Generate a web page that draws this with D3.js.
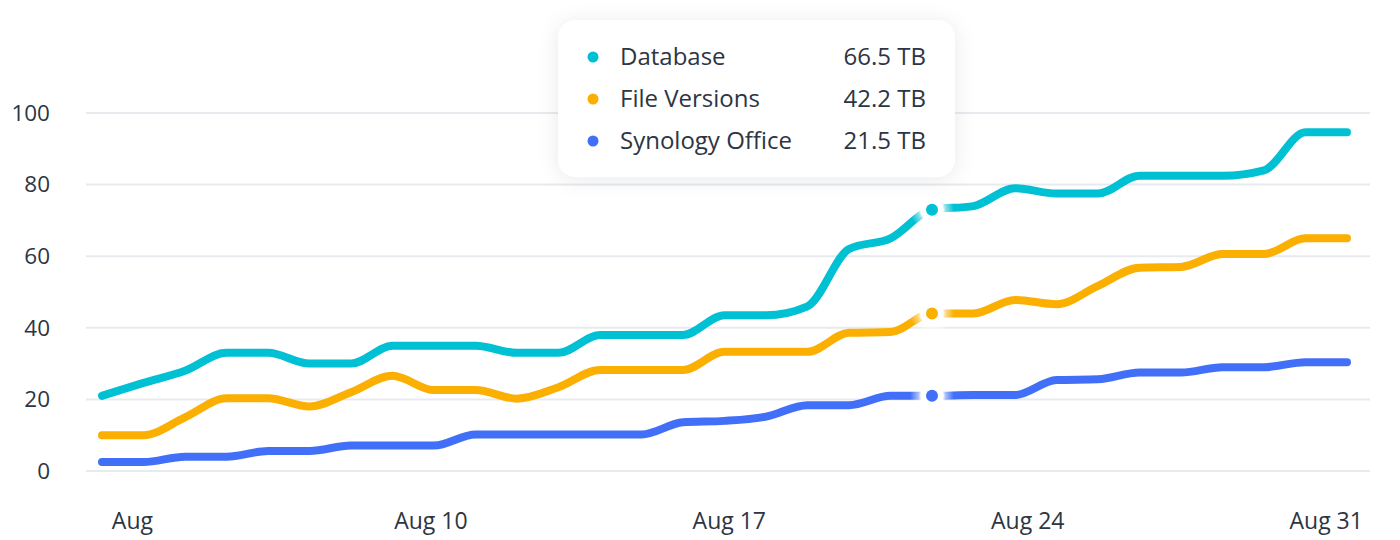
<!DOCTYPE html>
<html>
<head>
<meta charset="utf-8">
<script src="https://cdn.jsdelivr.net/npm/d3@7"></script>
<style>
    html, body { margin: 0; padding: 0; background: #fff; }
    svg { display: block; font-family: "Open Sans", sans-serif; }
</style>
</head>
<body>
<svg id="chart" width="1400" height="540"></svg>
<script>
// values per sample, one sample roughly every day
const seriesNames = ["Database", "File Versions", "Synology Office"];
const database = [21, 24.6, 28, 33, 33, 30, 30, 35, 35, 35, 33, 33, 38, 38, 38, 43.5, 43.5, 46,
    62, 65, 73, 74, 79, 77.5, 77.5, 82.5, 82.5, 82.5, 84, 94.6, 94.6];
const fileVersions = [10, 10, 15, 20.3, 20.3, 18, 22, 26.6, 22.6, 22.6, 20.2, 23.4, 28.2, 28.2, 28.2,
    33.3, 33.3, 33.3, 38.6, 38.8, 44, 44, 47.8, 46.6, 51.7, 56.8, 57, 60.6, 60.6, 65, 65];
const synologyOffice = [2.5, 2.5, 4, 4, 5.6, 5.6, 7.1, 7.1, 7.1, 10.2, 10.2, 10.2, 10.2, 10.2,
    13.6, 14, 15.2, 18.4, 18.4, 21, 21, 21.2, 21.2, 25.4, 25.6, 27.5, 27.5, 29, 29, 30.4, 30.4];
const seriesColors = ["#00c0d3", "#fbaf00", "#416ff8"];

const yTicks = [0, 20, 40, 60, 80, 100];
const tickDates = [new Date(2025, 7, 3), new Date(2025, 7, 10), new Date(2025, 7, 17),
    new Date(2025, 7, 24), new Date(2025, 7, 31)];
const tickLabels = ["Aug", "Aug 10", "Aug 17", "Aug 24", "Aug 31"];
const periodStart = new Date(2025, 7, 2, 7, 10);
const periodEnd = new Date(2025, 7, 31, 12, 0);

const hoverIndex = 20;
const tooltipValues = ["66.5 TB", "42.2 TB", "21.5 TB"];

const svg = d3.select("#chart");
const margin = { left: 102, right: 1347, top: 113, bottom: 471 };
const textColor = "#2d3543";
const series = [database, fileVersions, synologyOffice];

const x = d3.scalePoint()
    .domain(d3.range(database.length))
    .range([margin.left, margin.right]);

const xTime = d3.scaleTime()
    .domain([periodStart, periodEnd])
    .range([margin.left, margin.right]);

const y = d3.scaleLinear()
    .domain([0, 100])
    .range([margin.bottom, margin.top]);

// grid
svg.append("g")
    .selectAll("line")
    .data(yTicks)
    .join("line")
    .attr("x1", 86)
    .attr("x2", 1370)
    .attr("y1", d => y(d))
    .attr("y2", d => y(d))
    .attr("stroke", "#e7eaef")
    .attr("stroke-width", 2);

// y axis
const yAxis = d3.axisLeft(y).tickValues(yTicks).tickSize(0).tickPadding(0);
svg.append("g")
    .attr("transform", "translate(50,0)")
    .call(yAxis)
    .call(g => g.select(".domain").remove())
    .selectAll("text")
    .attr("fill", textColor)
    .attr("font-size", 22.5)
    .attr("font-family", "Open Sans");

// x axis
const xAxis = d3.axisBottom(xTime)
    .tickValues(tickDates)
    .tickFormat((d, i) => tickLabels[i])
    .tickSize(0)
    .tickPadding(0);
svg.append("g")
    .attr("transform", "translate(0,513)")
    .call(xAxis)
    .call(g => g.select(".domain").remove())
    .selectAll("text")
    .attr("fill", textColor)
    .attr("font-size", 23)
    .attr("font-family", "Open Sans");

const line = d3.line()
    .x((d, i) => x(i))
    .y(d => y(d))
    .curve(d3.curveMonotoneX);

svg.append("g")
    .selectAll("path")
    .data(series)
    .join("path")
    .attr("d", line)
    .attr("fill", "none")
    .attr("stroke", (d, i) => seriesColors[i])
    .attr("stroke-width", 8)
    .attr("stroke-linecap", "round")
    .attr("stroke-linejoin", "round");

// hover markers
const defs = svg.append("defs");
const halo = defs.append("radialGradient").attr("id", "halo");
halo.append("stop").attr("offset", "0.5").attr("stop-color", "#fff").attr("stop-opacity", 1);
halo.append("stop").attr("offset", "0.62").attr("stop-color", "#fff").attr("stop-opacity", 0.55);
halo.append("stop").attr("offset", "1").attr("stop-color", "#fff").attr("stop-opacity", 0);

const shadow = defs.append("filter").attr("id", "shadow")
    .attr("x", "-20%").attr("y", "-30%").attr("width", "140%").attr("height", "160%");
shadow.append("feDropShadow")
    .attr("dx", 0).attr("dy", 2)
    .attr("stdDeviation", 10)
    .attr("flood-color", "#1c2a44")
    .attr("flood-opacity", 0.09);

const marks = svg.append("g")
    .selectAll("g")
    .data(series)
    .join("g")
    .attr("transform", d => "translate(" + x(hoverIndex) + "," + y(d[hoverIndex]) + ")");

marks.append("circle").attr("r", 22).attr("fill", "url(#halo)");
marks.append("circle").attr("r", 6).attr("fill", (d, i) => seriesColors[i]);

// tooltip
const tip = svg.append("g").attr("transform", "translate(558,20)");
tip.append("rect")
    .attr("width", 397)
    .attr("height", 157)
    .attr("rx", 18)
    .attr("fill", "#fff")
    .attr("filter", "url(#shadow)");

const rows = tip.selectAll("g.row")
    .data(seriesNames)
    .join("g")
    .attr("class", "row")
    .attr("transform", (d, i) => "translate(0," + (37 + i * 42) + ")");

rows.append("circle")
    .attr("cx", 35)
    .attr("r", 5.5)
    .attr("fill", (d, i) => seriesColors[i]);

rows.append("text")
    .attr("x", 62)
    .attr("dy", "0.35em")
    .attr("font-size", 24)
    .attr("fill", textColor)
    .text(d => d);

rows.append("text")
    .attr("x", 368)
    .attr("dy", "0.35em")
    .attr("text-anchor", "end")
    .attr("font-size", 24)
    .attr("fill", textColor)
    .text((d, i) => tooltipValues[i]);
</script>
</body>
</html>
